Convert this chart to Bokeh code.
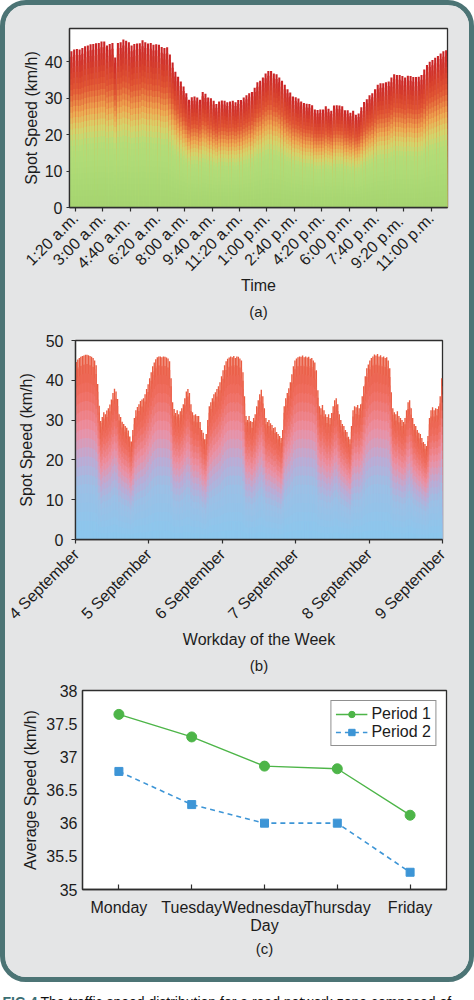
import numpy as np
from bokeh.plotting import figure
from bokeh.models import (ColumnDataSource, FixedTicker, Title, Legend, LegendItem, Range1d)
from bokeh.layouts import column
from bokeh.embed import file_html
from bokeh.resources import INLINE
from bokeh.core.properties import value

FONT = "Liberation Sans"
TEXT = "#1c1c1c"
AXIS = "#2e2e2e"
PANEL_BG = "#e4e5e6"
BORDER = "#4c7475"

# ---------------- (a) spot speed, 10-minute intervals from 1:00 a.m. to midnight
speed_day = [
    42.9, 43.4, 43.5, 43.4, 43.8, 44.3, 44.5, 44.8, 44.9, 45.1, 45.2, 45.6,
    45.6, 44.5, 44.9, 45.2, 41.2, 45.2, 45.4, 46.1, 45.8, 45.4, 44.5, 44.9,
    45.0, 45.1, 45.9, 45.4, 45.0, 45.2, 44.7, 44.8, 44.7, 44.1, 43.8, 44.0,
    42.0, 39.8, 37.3, 35.9, 34.6, 33.2, 31.4, 29.6, 30.3, 30.5, 30.2, 29.6,
    31.7, 31.2, 30.2, 30.0, 29.3, 28.4, 29.1, 29.4, 29.3, 28.9, 29.1, 29.3,
    28.9, 29.5, 29.5, 30.2, 30.8, 31.4, 31.7, 32.9, 34.4, 34.8, 35.7, 36.8,
    37.5, 37.5, 36.8, 36.6, 35.7, 34.8, 33.7, 32.5, 31.6, 30.5, 30.3, 29.9,
    29.1, 28.7, 28.5, 28.4, 28.1, 26.9, 26.8, 26.9, 26.9, 27.8, 27.1, 26.6,
    28.0, 28.1, 28.0, 27.8, 26.7, 26.7, 26.0, 26.6, 25.5, 25.8, 27.5, 29.0,
    29.7, 30.8, 31.4, 32.5, 33.7, 34.1, 34.1, 34.4, 34.6, 35.7, 36.6, 36.4,
    36.4, 36.1, 35.7, 36.2, 36.1, 35.8, 35.8, 35.9, 36.4, 37.9, 39.1, 40.0,
    40.5, 41.1, 41.6, 42.3, 42.9, 43.2,
]
time_ticks = [80, 180, 280, 380, 480, 580, 680, 780, 880, 980, 1080, 1180, 1280, 1380]
time_labels = ["1:20 a.m.", "3:00 a.m.", "4:40  a.m.", "6:20 a.m.", "8:00 a.m.",
               "9:40 a.m.", "11:20 a.m.", "1:00 p.m.", "2:40 p.m.", "4:20 p.m.",
               "6:00 p.m.", "7:40 p.m.", "9:20  p.m.", "11:00 p.m."]

# ---------------- (b) spot speed over the workdays, 30-minute resolution
sept4 = [44.6, 45.2, 45.6, 45.9, 46.1, 46.2, 46.4, 46.4, 46.3, 46.1, 45.9, 45.6,
         45.0, 43.8, 39.1, 33.6, 29.8, 30.8, 32.0, 31.5, 32.4, 33.0, 33.9, 35.2,
         36.8, 37.9, 37.2, 35.3, 31.5, 30.8, 29.6, 29.0, 28.5, 28.1, 27.4, 25.9,
         24.6, 27.5, 30.5, 32.5, 33.3, 34.0, 34.8, 35.2, 35.5, 36.5, 37.8, 39.0]
sept5 = [40.5, 42.0, 43.5, 44.5, 45.3, 45.8, 46.0, 46.0, 45.8, 46.0, 45.9, 45.7,
         45.5, 44.8, 40.5, 34.5, 32.8, 31.8, 32.5, 31.5, 32.2, 33.0, 34.0, 35.5,
         37.2, 37.8, 36.8, 34.0, 32.0, 31.2, 31.5, 31.0, 31.0, 29.5, 27.5, 26.8,
         25.2, 26.5, 30.0, 33.5, 34.5, 35.5, 36.5, 37.0, 37.8, 38.5, 39.5, 41.0]
sept6 = [42.5, 43.8, 44.8, 45.4, 45.7, 46.0, 45.8, 46.1, 45.6, 46.0, 45.9, 45.5,
         45.0, 42.0, 36.0, 31.0, 30.0, 31.0, 29.8, 29.5, 30.5, 31.5, 33.5, 35.0,
         36.5, 37.6, 36.0, 33.0, 30.5, 29.5, 30.0, 29.2, 28.8, 28.0, 28.2, 27.0,
         26.5, 26.0, 25.5, 27.5, 33.5, 35.5, 36.8, 38.0, 39.5, 41.5, 43.5, 45.0]
sept7 = [45.5, 45.8, 46.0, 45.9, 46.2, 45.8, 46.0, 45.7, 45.9, 45.4, 45.6, 45.0,
         44.5, 42.5, 37.5, 33.5, 33.0, 33.8, 32.5, 31.5, 30.8, 31.5, 30.5, 31.8,
         33.5, 35.0, 35.5, 34.0, 31.5, 30.0, 29.0, 28.5, 27.5, 27.0, 25.8, 25.2,
         28.5, 32.5, 33.5, 33.2, 33.8, 33.0, 34.0, 36.0, 38.5, 41.0, 43.0, 44.0]
sept8 = [45.0, 45.6, 46.0, 46.5, 46.2, 46.6, 46.0, 46.3, 45.8, 46.0, 45.6, 45.8,
         45.0, 43.0, 37.0, 33.0, 32.0, 31.5, 32.2, 31.0, 30.5, 30.0, 29.5, 30.5,
         32.5, 34.5, 35.0, 33.0, 30.5, 29.0, 28.5, 27.5, 26.8, 26.5, 25.5, 24.5,
         24.0, 23.5, 26.0, 30.5, 32.5, 33.2, 32.5, 33.0, 32.8, 33.5, 36.0, 40.5]
day_labels = ["4 September", "5 September", "6 September",
              "7 September", "8 September", "9 September"]

# ---------------- (c) average speed per weekday
weekdays = ["Monday", "Tuesday", "Wednesday", "Thursday", "Friday"]
period1 = [37.64, 37.30, 36.86, 36.82, 36.12]
period2 = [36.78, 36.28, 36.00, 36.00, 35.26]

# colour ramps, position along each bar (0 = base, 1 = top)
RAMP_A = [(0.00, (165, 212, 112)), (0.40, (178, 222, 122)), (0.50, (214, 214, 108)),
          (0.60, (238, 172, 82)), (0.75, (226, 88, 52)), (1.00, (200, 32, 36))]
RAMP_B = [(0.00, (138, 200, 238)), (0.30, (155, 192, 230)), (0.45, (188, 172, 214)),
          (0.60, (236, 146, 166)), (0.80, (240, 112, 100)), (1.00, (232, 88, 60))]


def ramp(stops, f):
    for (f0, c0), (f1, c1) in zip(stops[:-1], stops[1:]):
        if f <= f1:
            t = (f - f0) / (f1 - f0)
            return "#%02x%02x%02x" % tuple(int(round(a + (b - a) * t)) for a, b in zip(c0, c1))
    return "#%02x%02x%02x" % stops[-1][1]


def gradient_bars(xs, heights, width, stops, n):
    """Each bar is painted as n nested rectangles from the base upward (tallest first)."""
    cols = dict(left=[], right=[], bottom=[], top=[], color=[])
    for k in range(n - 1, -1, -1):
        c = ramp(stops, (k + 0.5) / n)
        for x, h in zip(xs, heights):
            cols["left"].append(x - width / 2)
            cols["right"].append(x + width / 2)
            cols["bottom"].append(0)
            cols["top"].append(h * (k + 1) / n)
            cols["color"].append(c)
    return ColumnDataSource(cols)


def style(p, ylabel, xlabel):
    p.background_fill_color = "white"
    p.border_fill_color = PANEL_BG
    p.outline_line_color = AXIS
    p.outline_line_width = 1.3
    p.xgrid.visible = False
    p.ygrid.visible = False
    for ax in p.axis:
        ax.axis_line_color = AXIS
        ax.axis_line_width = 1.3
        ax.major_tick_line_color = AXIS
        ax.major_tick_line_width = 1.2
        ax.minor_tick_line_color = None
        ax.major_label_text_font = FONT
        ax.major_label_text_font_size = "16px"
        ax.major_label_text_color = TEXT
        ax.axis_label_text_font = FONT
        ax.axis_label_text_font_size = "16px"
        ax.axis_label_text_font_style = "normal"
        ax.axis_label_text_color = TEXT
    p.yaxis.axis_label = ylabel
    p.xaxis.axis_label = xlabel


def panel_title(p, txt, standoff):
    p.add_layout(Title(text=txt, align="center", text_font=FONT, text_font_size="15px",
                       text_font_style="normal", text_color=TEXT, standoff=standoff), "below")


# ---------------- figure (a)
t_mid = np.arange(len(speed_day)) * 10 + 65
pa = figure(width=464, height=318, x_range=Range1d(58, 1440), y_range=Range1d(0, 49.15),
            output_backend="svg", toolbar_location=None,
            min_border_left=64, min_border_right=22, min_border_top=23, min_border_bottom=114)
pa.quad(left="left", right="right", bottom="bottom", top="top", fill_color="color",
        line_color=None, source=gradient_bars(t_mid, speed_day, 7.6, RAMP_A, 28))
style(pa, "Spot Speed (km/h)", "Time")
pa.xaxis.ticker = FixedTicker(ticks=time_ticks)
pa.xaxis.major_label_overrides = {t: lab for t, lab in zip(time_ticks, time_labels)}
pa.xaxis.major_label_orientation = np.pi / 4
pa.xaxis.major_tick_out = 4
pa.xaxis.major_tick_in = 0
pa.xaxis.major_label_standoff = 4
pa.xaxis.axis_label_standoff = -6
pa.yaxis.ticker = FixedTicker(ticks=[0, 10, 20, 30, 40])
pa.yaxis.major_tick_out = 3
pa.yaxis.major_tick_in = 0
pa.yaxis.major_label_standoff = 4
pa.yaxis.axis_label_standoff = 2
panel_title(pa, "(a)", 7)

# ---------------- figure (b)
week = sept4 + sept5 + sept6 + sept7 + sept8
d_mid = (np.arange(len(week)) + 0.5) / 48
pb = figure(width=464, height=355, x_range=Range1d(0, 5), y_range=Range1d(0, 50),
            output_backend="svg", toolbar_location=None,
            min_border_left=70, min_border_right=27, min_border_top=17, min_border_bottom=139)
pb.quad(left="left", right="right", bottom="bottom", top="top", fill_color="color",
        line_color=None, source=gradient_bars(d_mid, week, 0.9 / 48, RAMP_B, 20))
style(pb, "Spot Speed (km/h)", "Workday of the Week")
pb.xaxis.ticker = FixedTicker(ticks=list(range(6)))
pb.xaxis.major_label_overrides = {i: lab for i, lab in enumerate(day_labels)}
pb.xaxis.major_label_orientation = np.pi / 4
pb.xaxis.major_tick_out = 4
pb.xaxis.major_tick_in = 0
pb.xaxis.major_label_standoff = 8
pb.xaxis.axis_label_standoff = 0
pb.yaxis.ticker = FixedTicker(ticks=[0, 10, 20, 30, 40, 50])
pb.yaxis.major_tick_out = 4
pb.yaxis.major_tick_in = 0
pb.yaxis.major_label_standoff = 8
pb.yaxis.axis_label_standoff = 8
panel_title(pb, "(b)", 7)

# ---------------- figure (c)
xs = list(range(1, len(weekdays) + 1))
pc = figure(width=464, height=299, x_range=Range1d(0.5, 5.5), y_range=Range1d(35, 38),
            output_backend="svg", toolbar_location=None,
            min_border_left=77, min_border_right=23, min_border_top=12, min_border_bottom=88)
GREEN = "#4db548"
BLUE = "#3d95d6"
l1 = pc.line(xs, period1, line_color=GREEN, line_width=1.4)
m1 = pc.scatter(xs, period1, marker="circle", size=10, fill_color=GREEN, line_color=GREEN)
l2 = pc.line(xs, period2, line_color=BLUE, line_width=1.6, line_dash="5 4")
m2 = pc.scatter(xs, period2, marker="square", size=8, fill_color=BLUE, line_color=BLUE)
style(pc, "Average Speed (km/h)", "Day")
pc.xaxis.ticker = FixedTicker(ticks=xs)
pc.xaxis.major_label_overrides = {x: d for x, d in zip(xs, weekdays)}
pc.xaxis.major_tick_out = 0
pc.xaxis.major_tick_in = 5
pc.xaxis.major_label_standoff = 9
pc.xaxis.axis_label_standoff = -2
pc.yaxis.ticker = FixedTicker(ticks=[35, 35.5, 36, 36.5, 37, 37.5, 38])
pc.yaxis.major_label_overrides = {35: "35", 36: "36", 37: "37", 38: "38"}
pc.yaxis.major_tick_out = 0
pc.yaxis.major_tick_in = 0
pc.yaxis.major_label_standoff = 5
pc.yaxis.axis_label_standoff = 4
legend = Legend(items=[LegendItem(label="Period 1", renderers=[l1, m1]),
                       LegendItem(label="Period 2", renderers=[l2, m2])],
                location="top_right", label_text_font=FONT, label_text_font_size="16px",
                label_text_color=TEXT, border_line_color="#222222", border_line_width=1.5,
                background_fill_color="white", background_fill_alpha=1.0,
                glyph_width=32, glyph_height=16, label_standoff=4, padding=4, spacing=0,
                margin=10, label_height=16)
pc.add_layout(legend)
panel_title(pc, "(c)", 3)

# ---------------- caption strip under the framed panels
cap = figure(width=474, height=18, x_range=Range1d(0, 474), y_range=Range1d(0, 18),
             output_backend="svg", toolbar_location=None, min_border=0,
             background_fill_color="white", border_fill_color="white", outline_line_color=None)
cap.axis.visible = False
cap.grid.visible = False
cap.text(x=[2], y=[-1], text=["FIG 4"], text_font=value(FONT),
         text_font_size="14px", text_font_style="bold", text_color="#3a6e73",
         text_baseline="alphabetic")
cap.text(x=[40], y=[-1], text=["The traffic speed distribution for a road network zone composed of"],
         text_font=value(FONT), text_font_size="14px",
         text_color="#111111", text_baseline="alphabetic")

box = column(column(pa), column(pb), column(pc),
             styles={"border": f"5px solid {BORDER}", "border-radius": "26px",
                     "background-color": PANEL_BG, "overflow": "hidden"})
page = column(box, cap)

open("out.html", "w").write(file_html(page, INLINE))
